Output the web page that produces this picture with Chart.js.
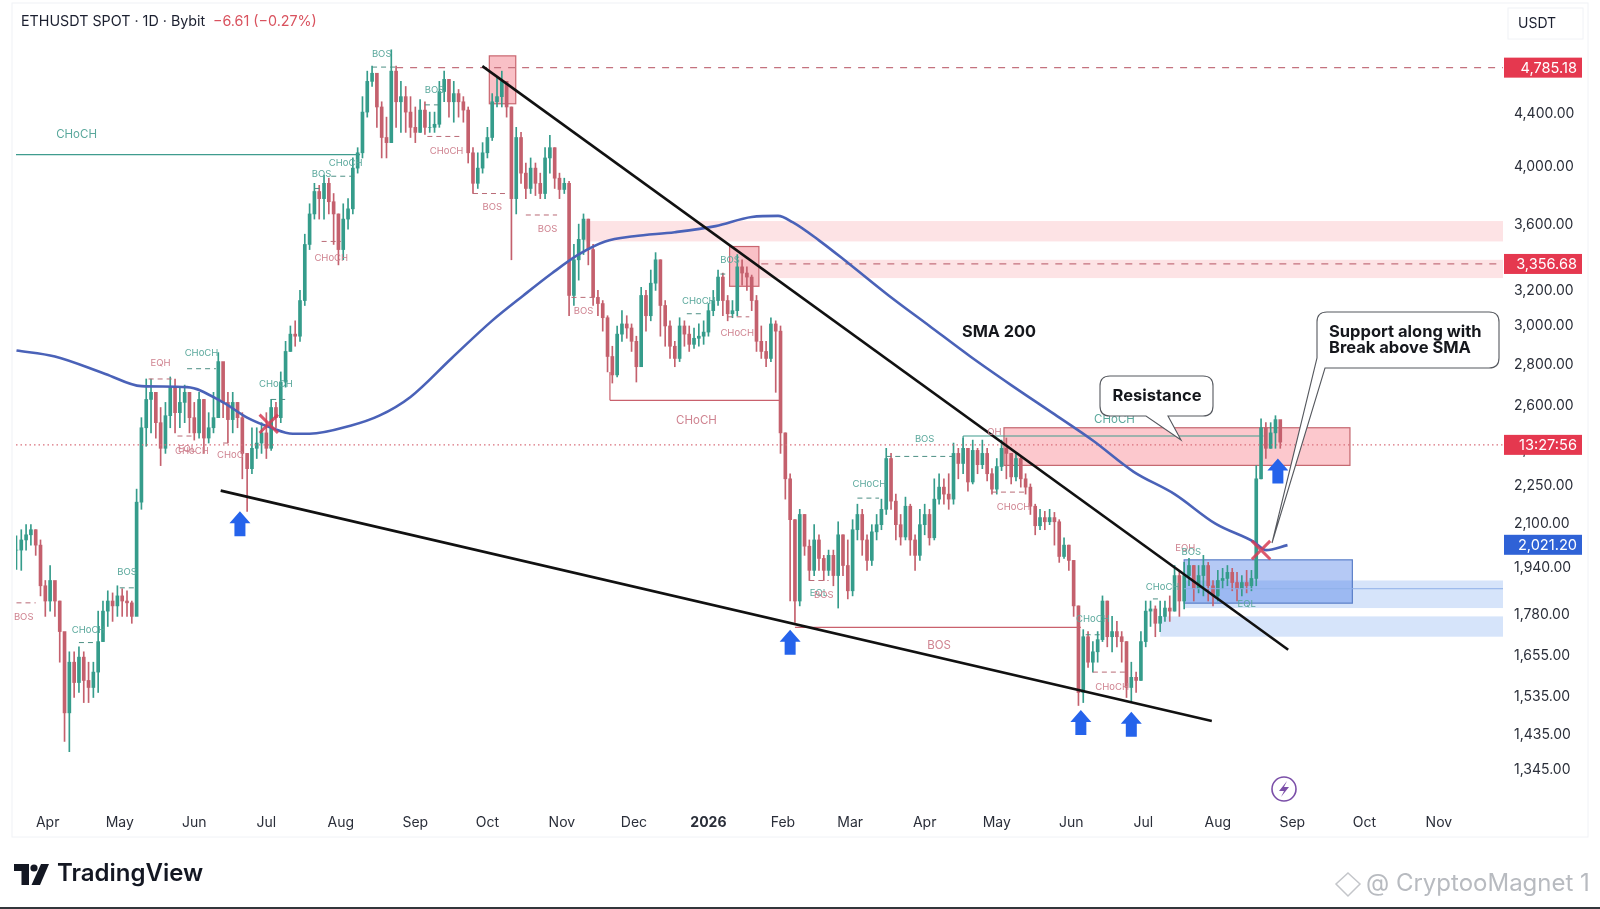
<!DOCTYPE html>
<html><head><meta charset="utf-8"><style>html,body{margin:0;padding:0;background:#fff}#w{width:1600px;height:909px;position:relative}</style>
<script src="https://cdn.jsdelivr.net/npm/chart.js@4/dist/chart.umd.min.js"></script></head>
<body><div id="w"><canvas id="c" width="1600" height="909"></canvas></div>
<script>
const firstDay=-13, stepDays=2;
const closes=[2002,2039,2058,2077,2020,1877,1826,1895,1826,1728,1492,1635,1576,1650,1582,1562,1606,1697,1793,1826,1810,1843,1826,1820,1776,2183,2497,2628,2662,2520,2406,2552,2687,2566,2614,2662,2543,2474,2628,2451,2497,2543,2814,2614,2534,2614,2543,2384,2319,2406,2429,2474,2406,2590,2543,2712,2866,2957,2946,3142,3477,3674,3826,3777,3883,3756,3674,3445,3640,3708,3991,4103,4416,4668,4737,4457,4218,4179,4755,4499,4541,4416,4296,4257,4432,4296,4296,4320,4583,4685,4499,4566,4499,4432,4103,3883,3991,4103,4218,4499,4541,4668,4457,3777,4218,3955,3847,3991,3883,3812,4065,4141,3919,3840,3883,3171,3382,3509,3640,3445,3160,3125,3046,2840,2747,2957,3012,2990,2919,2788,3171,3057,3242,3382,3114,3001,2893,2830,3001,2957,2903,2935,2946,2968,3085,3142,3278,3142,3068,3085,3339,3302,3278,3142,2919,2866,2830,3012,2973,2474,2277,2115,1826,2135,2016,1930,2039,1972,1930,1983,1912,2058,1947,1860,2077,2135,2039,1965,2069,2096,2155,2362,2187,2096,2050,2167,2039,1983,2096,2135,2047,2195,2243,2215,2195,2384,2341,2406,2264,2397,2336,2384,2298,2235,2328,2406,2384,2285,2362,2277,2243,2167,2092,2123,2107,2123,2107,1979,2020,1965,1810,1548,1712,1635,1666,1703,1826,1712,1728,1712,1697,1562,1591,1582,1697,1793,1800,1754,1776,1803,1793,1912,1826,1912,1947,1867,1912,1947,1877,1843,1895,1902,1923,1888,1867,1888,1877,1902,2277,2497,2406,2474,2534,2433];
const highs=[2054,2077,2096,2096,2077,2039,1895,1947,1877,1826,1666,1666,1666,1681,1666,1635,1635,1793,1826,1860,1853,1877,1867,1860,1826,2235,2543,2727,2727,2662,2590,2614,2737,2727,2687,2697,2662,2614,2662,2628,2566,2662,2860,2788,2662,2662,2614,2566,2384,2497,2497,2520,2566,2628,2614,2762,2919,3001,3029,3200,3542,3742,3883,3869,3941,3919,3812,3674,3742,3777,4065,4141,4541,4755,4799,4711,4499,4376,4942,4799,4668,4625,4541,4457,4516,4499,4416,4416,4668,4755,4625,4668,4600,4541,4457,4141,4103,4179,4296,4566,4711,4755,4668,4457,4296,4257,4028,4065,4028,3955,4141,4234,4141,3955,3919,3897,3477,3607,3674,3640,3477,3200,3142,3057,2893,3001,3085,3057,3012,2946,3218,3200,3320,3426,3382,3142,3029,2919,3046,3029,3001,2990,3012,3029,3125,3200,3320,3302,3171,3142,3414,3382,3339,3290,3171,3001,2919,3046,3029,3001,2474,2298,2115,2155,2135,2039,2096,2058,1983,2002,2002,2107,2058,2039,2115,2175,2155,2058,2096,2135,2195,2406,2384,2215,2135,2203,2175,2058,2155,2175,2155,2277,2298,2277,2298,2429,2406,2451,2406,2442,2406,2442,2406,2319,2362,2442,2451,2384,2384,2371,2298,2256,2175,2155,2147,2155,2143,2115,2047,2020,1965,1810,1734,1728,1697,1728,1843,1826,1776,1760,1728,1697,1635,1606,1728,1826,1826,1810,1826,1826,1843,1947,1930,1958,1972,1947,1947,1983,1958,1895,1930,1937,1947,1937,1923,1912,1930,1930,2332,2538,2520,2520,2552,2497];
const lows=[1933,1930,2002,2020,1983,1843,1776,1793,1776,1635,1417,1391,1534,1548,1520,1520,1534,1548,1697,1744,1760,1776,1776,1776,1754,1793,2155,2415,2474,2451,2332,2384,2497,2474,2497,2520,2474,2442,2451,2384,2429,2474,2590,2543,2429,2474,2497,2277,2147,2298,2362,2384,2362,2397,2497,2520,2687,2866,2893,2919,3114,3445,3640,3640,3640,3674,3477,3351,3382,3574,3674,3955,4065,4376,4625,4296,4065,4065,4179,4296,4257,4257,4218,4179,4257,4242,4257,4257,4296,4499,4376,4336,4376,4336,4028,3812,3847,3955,4065,4195,4457,4457,4376,3382,3674,3883,3777,3812,3798,3777,3777,3955,3847,3777,3812,3057,3114,3260,3414,3351,3114,3057,2973,2762,2707,2737,2919,2935,2866,2712,2788,2973,3029,3200,2946,2893,2830,2788,2814,2893,2866,2882,2893,2903,2946,3057,3114,3057,3029,3046,3057,3230,3200,3085,2866,2830,2788,2814,2662,2384,2195,1826,1757,1810,1983,1895,1912,1930,1895,1912,1877,1803,1912,1833,1843,2039,1983,1930,1947,2039,2077,2135,2155,2039,2020,2039,1983,1930,1965,2058,2020,2039,2175,2175,2155,2175,2277,2298,2227,2256,2298,2319,2268,2215,2215,2311,2277,2256,2268,2243,2215,2135,2058,2077,2077,2096,2020,1958,1972,1930,1776,1512,1520,1620,1606,1635,1697,1681,1666,1681,1635,1534,1523,1548,1582,1681,1744,1712,1728,1760,1760,1793,1776,1800,1877,1826,1853,1843,1826,1810,1826,1867,1877,1860,1826,1843,1853,1860,1877,2277,2362,2406,2406,2406];
const smaDays=[-13,3,24,39,58,73,83,93,102,109,126,138,151,168,185,198,210,221,232,244,261,278,293,304,310,321,333,350,367,384,401,418,435,452,469,486,502,507,516];
const smaValues=[2871,2840,2752,2692,2687,2614,2543,2497,2470,2470,2506,2552,2640,2830,3030,3171,3302,3415,3496,3529,3555,3594,3654,3661,3620,3503,3364,3171,3001,2840,2697,2566,2440,2306,2215,2100,2032,2002,2020];
const dayEnd=605.7;
const monthDays=[0,30,61,91,122,153,183,214,244,275,306,334,365,395,426,456,487,518,548,579];
const monthLabels=['Apr','May','Jun','Jul','Aug','Sep','Oct','Nov','Dec','2026','Feb','Mar','Apr','May','Jun','Jul','Aug','Sep','Oct','Nov'];
const priceTicks=[4400,4000,3600,3200,3000,2800,2600,2400,2250,2100,1940,1780,1655,1535,1435,1345];
const trendLow=[[72,2229],[484.5,1470]];
const trendHigh=[[180.9,4798],[516.3,1672]];
const tealDashed=[[13,21,1694],[30,37,1870],[58,70,2778],[93,99,2628],[118,128,3933],[111,114,3847],[157,164,4474],[135,145,4790],[266,273,3068],[280,282,3296],[349,377,2371],[337,346,2199],[432,439,1718],[460,463,1833]];
const redDashed=[[-13,-5,1820],[42,52,2727],[54,61,2460],[73,76,2429],[114,122,3496],[158,172,4226],[177,192,3812],[199,212,3667],[218,227,3160],[283,292,3051],[317,325,1895],[393,407,2223],[435,449,1606]];
const redSolid=[[234,305,2624],[311,430,1741]];
const tealSolid=[[-13.2,130,4090],[381,506,2460]];
const lightZones=[[223,dayEnd,3627,3496],[296.5,dayEnd,3382,3272]];
const redBoxes=[[183.8,194.8,4888,4483],[283.8,296,3464,3224]];
const resistanceZone=[398,542,2497,2333];
const blueBox=[473,543,1967,1819];
const blueBands=[[473,dayEnd,1895,1803],[463,dayEnd,1776,1712]];
const arrowDays=[80,309,430,451,512];
const arrowPrices=[2147,1734,1500,1495,2362];
const crossDays=[92,505];
const crossPrices=[2515,2002];
const priceTags=[[4785.18,'4,785.18','#e5384f'],[3356.68,'3,356.68','#e5384f'],[2421,'13:27:56','#e5384f'],[2021.2,'2,021.20','#2f62d6']];
const labelTexts=['CHoCH','BOS','BOS','CHoCH','BOS','CHoCH','BOS','BOS','BOS','CHoCH','EQH','CHoCH','CHoCH','EQL','CHoCH','CHoC','BOS','CHoCH','BOS','BOS','CHoCH','CHoCH','CHoCH','BOS','CHoCH','OH','CHoCH','EQL','BOS','BOS','CHoCH','CHoCH','CHoCH','CHoCH','EQH','BOS','EQL'];
const labelDays=[12,139,161,124,114,166,185,208,223,118,47,64,95,58,60,76,33,17,-10,284,271,287,270,365,342,394,402,321,323,371,444,435,443,464,473.5,476,499];
const labelPrices=[4241,4906,4591,4028,3948,4119,3720,3574,3080,3395,2804,2856,2702,2402,2393,2375,1923,1734,1773,3382,3137,2962,2529,2447,2256,2478,2163,1853,1846,1684,2534,1767,1562,1874,2009,1994,1816];
const labelKinds=['T','T','T','T','T','R','R','R','R','R','R','T','T','R','R','R','T','T','R','T','T','R','R','T','T','R','R','T','R','R','T','T','R','T','R','T','T'];
const largeLabels=[0,22,29,30];

const UP='#359c8b',DOWN='#c4606d',TEAL='#5aa89c',RED='#cf8390';
const FONT='Inter, "Open Sans", sans-serif';
const dayOf=i=>firstDay+i*stepDays;
const opens=closes.map((c,i)=>i?closes[i-1]:c);
const col=closes.map((c,i)=>c>=opens[i]?UP:DOWN);
const seg=(pts,color,w,dash,order,smooth)=>({type:'line',data:pts.map(p=>({x:p[0],y:p[1]})),borderColor:color,borderWidth:w,borderDash:dash||[],pointRadius:0,tension:0,cubicInterpolationMode:smooth?'monotone':'default',order:order,fill:false});
const levelSets=[...tealDashed.map(s=>seg([[s[0],s[2]],[s[1],s[2]]],'#4c8f84',1,[5,4],3)),
 ...redDashed.map(s=>seg([[s[0],s[2]],[s[1],s[2]]],'#b96a76',1,[5,4],3)),
 ...redSolid.map(s=>seg([[s[0],s[2]],[s[1],s[2]]],'#c9616d',1.2,[],3)),
 ...tealSolid.map(s=>seg([[s[0],s[2]],[s[1],s[2]]],'#3f9c8e',1.2,[],3)),
 seg([[234,2762],[234,2624]],'#c9616d',1.2,[],3),
 seg([[381,2460],[381,2371]],'#3f9c8e',1.2,[],3),
 seg([[145,4785.18],[dayEnd,4785.18]],'#c4727e',1.2,[7,7],3),
 seg([[297,3356.68],[dayEnd,3356.68]],'#c4727e',1.2,[7,7],3),
 seg([[-13.2,2421],[dayEnd,2421]],'#d9707c',1.2,[1.5,3],3),
 seg([[473,1867],[dayEnd,1867]],'#8fb0e8',1,[],3)];

const overlay={id:'overlay',
 beforeDatasetsDraw(ch){const c=ch.ctx,X=v=>ch.scales.x.getPixelForValue(v),Y=v=>ch.scales.y.getPixelForValue(v);
  const box=(z,fill,stroke)=>{c.fillStyle=fill;c.fillRect(X(z[0]),Y(z[2]),X(z[1])-X(z[0]),Y(z[3])-Y(z[2]));if(stroke){c.strokeStyle=stroke;c.lineWidth=1.2;c.strokeRect(X(z[0]),Y(z[2]),X(z[1])-X(z[0]),Y(z[3])-Y(z[2]));}};
  c.save();
  lightZones.forEach(z=>box(z,'#fde3e5'));
  blueBands.forEach(z=>box(z,'rgba(120,165,240,0.30)'));
  box(blueBox,'rgba(70,120,230,0.40)','#5a7fc8');
  box(resistanceZone,'rgba(247,125,135,0.42)','#c4666e');
  redBoxes.forEach(z=>box(z,'rgba(240,105,118,0.42)','#c9656f'));
  c.restore();},
 afterDatasetsDraw(ch){const c=ch.ctx,X=v=>ch.scales.x.getPixelForValue(v),Y=v=>ch.scales.y.getPixelForValue(v);
  c.save();c.textBaseline='middle';c.textAlign='center';
  labelTexts.forEach((t,i)=>{c.font=(largeLabels.includes(i)?'11.5':'9.5')+'px '+FONT;c.fillStyle=labelKinds[i]==='T'?TEAL:RED;c.fillText(t,X(labelDays[i]),Y(labelPrices[i]));});
  arrowDays.forEach((d,i)=>{const x=X(d),y=Y(arrowPrices[i]);c.fillStyle='#2563eb';c.beginPath();c.moveTo(x,y);c.lineTo(x+10.5,y+12);c.lineTo(x+5.5,y+12);c.lineTo(x+5.5,y+25);c.lineTo(x-5.5,y+25);c.lineTo(x-5.5,y+12);c.lineTo(x-10.5,y+12);c.closePath();c.fill();});
  const bubble=(l,t,r,b,rad,tail)=>{c.beginPath();c.moveTo(l+rad,t);c.lineTo(r-rad,t);c.quadraticCurveTo(r,t,r,t+rad);c.lineTo(r,b-rad);c.quadraticCurveTo(r,b,r-rad,b);c.lineTo(tail[2],b);c.lineTo(tail[1][0],tail[1][1]);c.lineTo(tail[0][0],tail[0][1]);c.lineTo(l+rad,b);c.quadraticCurveTo(l,b,l,b-rad);c.lineTo(l,t+rad);c.quadraticCurveTo(l,t,l+rad,t);c.closePath();c.fillStyle='#fff';c.fill();c.strokeStyle='#55585e';c.lineWidth=1.1;c.stroke();};
  bubble(1100,376,1213,416,10,[[1146,416],[1181,440],1168]);
  c.fillStyle='#15171c';c.font='bold 16.5px '+FONT;c.fillText('Resistance',1157,396);
  c.beginPath();c.moveTo(1327,312);c.lineTo(1489,312);c.quadraticCurveTo(1499,312,1499,322);c.lineTo(1499,358);c.quadraticCurveTo(1499,368,1489,368);c.lineTo(1325,368);c.lineTo(1272,543);c.lineTo(1317,358);c.lineTo(1317,322);c.quadraticCurveTo(1317,312,1327,312);c.closePath();c.fillStyle='#fff';c.fill();c.strokeStyle='#55585e';c.stroke();
  c.textAlign='left';c.fillStyle='#15171c';c.font='bold 16.5px '+FONT;c.fillText('Support along with',1329,332);c.fillText('Break above SMA',1329,348);
  c.font='bold 16.3px '+FONT;c.textAlign='center';c.fillText('SMA 200',999,332);
  c.strokeStyle='#7b4fa8';c.lineWidth=1.6;c.beginPath();c.arc(1284,789,12,0,7);c.stroke();c.fillStyle='#7b4fa8';c.beginPath();c.moveTo(1287,781);c.lineTo(1279,791);c.lineTo(1284,791);c.lineTo(1281,797);c.lineTo(1289,787);c.lineTo(1284,787);c.closePath();c.fill();
  c.strokeStyle='#f0f2f6';c.lineWidth=1;c.strokeRect(12,3,1576,834);
  c.textAlign='right';c.font='14.6px '+FONT;
  priceTags.forEach(t=>{const y=Y(t[0]);c.fillStyle=t[2];c.fillRect(1504,y-10,78,20);c.fillStyle='#fff';c.fillText(t[1],1577,y+0.5);});
  c.textAlign='left';c.font='14.3px '+FONT;c.fillStyle='#1c2030';c.fillText('ETHUSDT SPOT · 1D · Bybit',21,21.5);
  c.fillStyle='#d9525e';c.fillText('−6.61 (−0.27%)',213,21.5);
  c.strokeStyle='#f0f2f6';c.strokeRect(1508,8,75,31);c.fillStyle='#1c2030';c.font='14px '+FONT;c.fillText('USDT',1518,23.5);
  c.fillStyle='#131722';c.fillRect(14,864,15,7);c.fillRect(21.5,864,7.5,21);c.beginPath();c.arc(34,868,3.6,0,7);c.fill();c.beginPath();c.moveTo(41,864);c.lineTo(49,864);c.lineTo(40,885);c.lineTo(31.5,885);c.closePath();c.fill();
  c.font='600 24px '+FONT;c.fillText('TradingView',57,874);
  c.fillStyle='#b8bbc0';c.font='24px '+FONT;c.fillText('@ CryptooMagnet 1',1366,884);
  c.strokeStyle='#c4c6ca';c.lineWidth=1.5;c.beginPath();c.moveTo(1348,873);c.lineTo(1360,884);c.lineTo(1348,896);c.lineTo(1336,884);c.closePath();c.stroke();
  c.fillStyle='#33363b';c.fillRect(0,907,1600,2);
  c.restore();}
};
new Chart(document.getElementById('c'),{type:'bar',plugins:[overlay],
 data:{datasets:[
  {data:closes.map((c,i)=>({x:dayOf(i),y:[lows[i],highs[i]]})),backgroundColor:col,barThickness:1,grouped:false,order:6},
  {data:closes.map((c,i)=>({x:dayOf(i),y:[opens[i],c]})),backgroundColor:col,barThickness:3,grouped:false,order:5},
  ...levelSets,
  seg(smaDays.map((d,i)=>[d,smaValues[i]]),'#4a62b8',2.6,[],2,true),
  seg(trendLow,'#111',2.6,[],1),
  seg(trendHigh,'#111',2.6,[],1),
  {type:'scatter',data:crossDays.map((d,i)=>({x:d,y:crossPrices[i]})),pointStyle:'crossRot',pointRadius:13,pointBorderColor:'rgba(214,60,85,0.85)',pointBorderWidth:3,pointBackgroundColor:'rgba(0,0,0,0)',order:0}
 ]},
 options:{responsive:false,animation:false,events:[],devicePixelRatio:1,
  layout:{padding:{left:8,right:12,top:4,bottom:71}},
  plugins:{legend:{display:false},tooltip:{enabled:false},title:{display:false}},
  scales:{
   x:{type:'linear',offset:false,min:-13.2,max:dayEnd,grid:{display:false},border:{display:false},
    afterBuildTicks(s){s.ticks=monthDays.map(v=>({value:v}));},
    afterFit(s){s.height=32;},
    ticks:{autoSkip:false,maxRotation:0,padding:0,color:'#2a2e39',
     font:ctx=>({family:FONT,size:14,weight:ctx.tick&&ctx.tick.value===275?'bold':'normal'}),
     callback:v=>{const i=monthDays.indexOf(v);return i<0?'':monthLabels[i];}}},
   y:{type:'logarithmic',position:'right',min:1261,max:5253,grid:{display:false},border:{display:false},
    afterBuildTicks(s){s.ticks=priceTicks.map(v=>({value:v}));},
    afterFit(s){s.width=85;},
    ticks:{autoSkip:false,padding:3,color:'#2a2e39',font:{family:FONT,size:14},
     callback:v=>Number(v).toLocaleString('en-US',{minimumFractionDigits:2,maximumFractionDigits:2})}}
  }}});
</script></body></html>
